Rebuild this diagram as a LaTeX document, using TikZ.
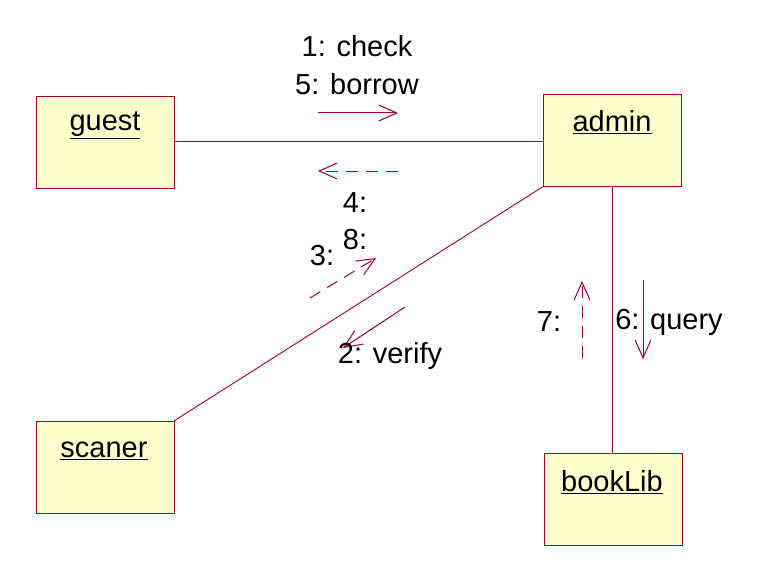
\documentclass[tikz,border=0pt]{standalone}
\usepackage{fontspec}
\setmainfont{Liberation Sans}
\usetikzlibrary{arrows.meta}
\definecolor{lnc}{HTML}{990033}
\definecolor{boxf}{HTML}{FFFFCC}
\tikzset{
  obj/.style={draw=lnc,fill=boxf,minimum width=138pt,minimum height=92pt,inner sep=0pt},
  lbl/.style={font=\fontsize{29}{34}\selectfont,inner sep=1pt},
  link/.style={draw=lnc,line width=0.9pt},
  msg/.style={draw=lnc,line width=1pt,-{Straight Barb[length=18pt,width=16pt]}},
  rmsg/.style={msg,dash pattern=on 12pt off 8pt}
}
\begin{document}
\begin{tikzpicture}[x=1pt,y=-1pt]
\useasboundingbox (0,0) rectangle (767,572);
\node[obj] (guest) at (105,142.5) {};
\node[obj] (admin) at (612,140.5) {};
\node[obj] (scaner) at (105,467) {};
\node[obj] (booklib) at (613,499) {};
\node[lbl] at (105,125) {\underline{guest}};
\node[lbl] at (612,122) {\underline{admin}};
\node[lbl] at (104,451) {\underline{scaner}};
\node[lbl] at (612,482) {\underline{bookLib}};
\draw[link] (guest.east |- 0,141) -- (admin.west |- 0,141);
\draw[link] (admin.south west) -- (scaner.north east);
\draw[link] (admin.south) -- (booklib.north -| admin.south);
\coordinate (a1) at (318,113); \coordinate (a2) at (398,113);
\draw[msg] (a1) -- (a2);
\coordinate (b1) at (398,171); \coordinate (b2) at (318,171);
\draw[rmsg] (b1) -- (b2);
\coordinate (c1) at (310,298); \coordinate (c2) at (376,258);
\draw[rmsg] (c1) -- (c2);
\coordinate (d1) at (405,307); \coordinate (d2) at (343,348);
\draw[msg] (d1) -- (d2);
\coordinate (e1) at (582,358); \coordinate (e2) at (582,281);
\draw[rmsg] (e1) -- (e2);
\coordinate (f1) at (643,280); \coordinate (f2) at (643,359);
\draw[msg] (f1) -- (f2);
\node[lbl] at (357,46) {1: check};
\node[lbl] at (357,84) {5: borrow};
\node[lbl] at (355,203) {4:};
\node[lbl] at (355,240) {8:};
\node[lbl] at (322,256) {3:};
\node[lbl] at (390,356) {2: verify};
\node[lbl] at (549,322) {7:};
\node[lbl] at (669,322) {6: query};
\end{tikzpicture}
\end{document}
